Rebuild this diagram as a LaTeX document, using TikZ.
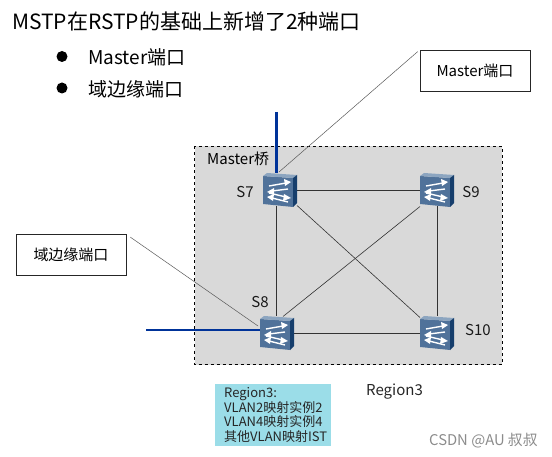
\documentclass[tikz,border=0pt]{standalone}
\usepackage{fontspec}
\setmainfont{Noto Sans CJK SC}
\usetikzlibrary{positioning,calc}
\definecolor{regiongray}{RGB}{217,217,217}
\definecolor{notecyan}{RGB}{155,221,232}
\definecolor{portblue}{RGB}{0,51,153}
\definecolor{frontblue}{RGB}{80,114,154}
\definecolor{topblue}{RGB}{140,165,192}
\definecolor{sideblue}{RGB}{22,62,108}
\tikzset{
  swnode/.style={minimum width=34pt,minimum height=33pt,inner sep=0pt,outer sep=0pt},
  swlabel/.style={font=\fontsize{15}{15}\selectfont,text=black!90},
  calloutbox/.style={draw=black!85,fill=white,line width=0.7pt,minimum width=110pt,minimum height=41pt,font=\fontsize{15}{15}\selectfont,inner sep=0pt},
  link/.style={draw=black!80,line width=0.6pt},
  porttrunk/.style={draw=portblue,line width=2.4pt},
  leader/.style={draw=black!65,line width=0.5pt}
}
% one switch glyph, drawn on top of its node
\newcommand{\switchicon}[1]{
  \begin{scope}[shift={(#1.center)}]
    \fill[frontblue] (-17,-14) -- (13,-12) -- (13,17) -- (-17,14) -- cycle;
    \fill[topblue] (-17,-14) -- (-13,-17) -- (17,-15) -- (13,-12) -- cycle;
    \fill[sideblue] (13,-12) -- (17,-15) -- (17,13) -- (13,17) -- cycle;
    \draw[white,line width=1.4pt] (-11,-4) -- (6,-7);
    \fill[white] (11,-8) -- (4,-11) -- (5,-4) -- cycle;
    \draw[white,line width=1.4pt] (8,-1) -- (-8,1);
    \fill[white] (-13,2) -- (-6,-2) -- (-6,5) -- cycle;
    \draw[white,line width=1.4pt] (-11,3) -- (6,7);
    \fill[white] (11,8) -- (4,4) -- (3,11) -- cycle;
    \draw[white,line width=1.4pt] (8,12) -- (-8,8);
    \fill[white] (-13,7) -- (-6,4) -- (-7,11) -- cycle;
  \end{scope}
}
\begin{document}
\begin{tikzpicture}[x=1pt,y=-1pt]
  \useasboundingbox (0,0) rectangle (552,457);
  % heading and bullets
  \node[anchor=west,inner sep=0pt,font=\fontsize{21}{21}\selectfont] (title) at (12,22) {MSTP在RSTP的基础上新增了2种端口};
  \node[anchor=west,inner sep=0pt,font=\fontsize{19}{19}\selectfont] (item1) at (88,57) {Master端口};
  \node[anchor=west,inner sep=0pt,font=\fontsize{19}{19}\selectfont] (item2) at (88,89) {域边缘端口};
  \fill (62,56.5) circle (5.5);
  \fill (62,88) circle (5.5);
  % region
  \draw[fill=regiongray,dashed,line width=0.7pt] (194.5,146.5) rectangle (502,364.5);
  \node[anchor=west,inner sep=0pt,font=\fontsize{15}{15}\selectfont] (masterbr) at (207,159) {Master桥};
  % switches
  \node[swnode] (s7) at (280,190) {};
  \node[swnode] (s8) at (277,333) {};
  \node[swnode] (s9) at (437,190) {};
  \node[swnode] (s10) at (437,333) {};
  \coordinate (s7port) at (276.3,173);
  \coordinate (s7free) at (276.3,112);
  \coordinate (s8port) at (260,330);
  \coordinate (s8free) at (146,330);
  \draw[link] (s7) -- (s9);
  \draw[link] (s8) -- (s10);
  \draw[link] (s9) -- (s10);
  \draw[link] (s7.south -| s7port) -- (s7port |- s8.north);
  \draw[link] (s7) -- (s10);
  \draw[link] ($(s8.north)+(6,0)$) -- (s9.south west);
  \foreach \n in {s7,s8,s9,s10}{
    \switchicon{\n}
  }
  \draw[porttrunk] (s7free) -- (s7port);
  \draw[porttrunk] (s8free) -- (s8port);
  \node[swlabel] (s7txt) at (245,192) {S7};
  \node[swlabel] (s8txt) at (260,302) {S8};
  \node[swlabel] (s9txt) at (471,192) {S9};
  \node[swlabel] (s10txt) at (478,330) {S10};
  % callouts
  \node[calloutbox] (masterport) at (475,70.5) {Master端口};
  \node[calloutbox] (edgeport) at (71,255) {域边缘端口};
  \draw[leader] (masterport.north west) ++(-2,2) -- (279,172);
  \draw[leader] (edgeport.north east) ++(4,3) -- (258,326);
  % legend
  \node[fill=notecyan,minimum width=116pt,minimum height=62pt,inner sep=0pt] (note) at (273,415) {};
  \node[anchor=west,inner sep=0pt,font=\fontsize{13}{14.5}\selectfont,align=left,text=black!85] (notetxt) at (224,415) {Region3:\\VLAN2映射实例2\\VLAN4映射实例4\\其他VLAN映射IST};
  \node[anchor=west,inner sep=0pt,font=\fontsize{15}{15}\selectfont,text=black!85] (regionname) at (366,392) {Region3};
  \node[anchor=west,inner sep=0pt,font=\fontsize{14.8}{15}\selectfont,text=black!45] (mark) at (429,441) {CSDN @AU 叔叔};
\end{tikzpicture}
\end{document}
